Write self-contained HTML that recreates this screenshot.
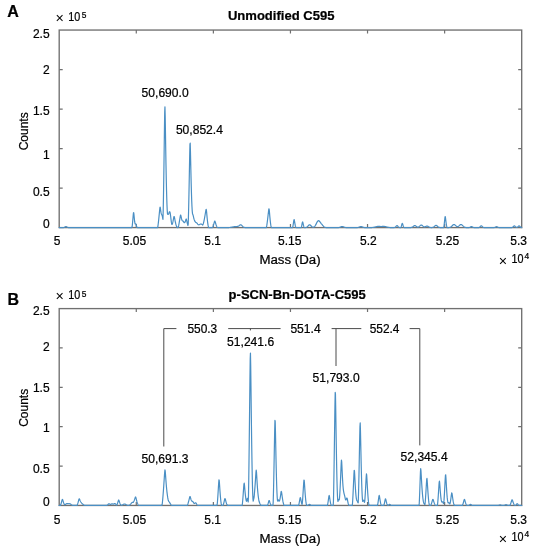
<!DOCTYPE html>
<html><head><meta charset="utf-8"><title>Mass spectra</title>
<style>
html,body{margin:0;padding:0;background:#fff;}
svg{display:block;font-family:"Liberation Sans",Arial,Helvetica,sans-serif;fill:#000;}
text{stroke:#000;stroke-width:0.22px;}
</style></head><body>
<svg width="536" height="550" viewBox="0 0 536 550">
<rect width="536" height="550" fill="#fff"/>
<rect x="59.2" y="30.05" width="462.50000000000006" height="197.54999999999998" fill="none" stroke="#707070" stroke-width="1.35"/>
<path d="M136.28,227.6v-3.5 M136.28,30.05v3.5 M213.37,227.6v-3.5 M213.37,30.05v3.5 M290.45,227.6v-3.5 M290.45,30.05v3.5 M367.53,227.6v-3.5 M367.53,30.05v3.5 M444.62,227.6v-3.5 M444.62,30.05v3.5 M59.2,69.56h3.5 M521.7,69.56h-3.5 M59.2,109.07h3.5 M521.7,109.07h-3.5 M59.2,148.58h3.5 M521.7,148.58h-3.5 M59.2,188.09h3.5 M521.7,188.09h-3.5 " stroke="#707070" stroke-width="1.2" fill="none"/>
<path d="M59.20,227.60 L62.70,227.60 L62.95,227.59 L63.20,227.58 L63.45,227.56 L63.70,227.53 L63.95,227.48 L64.20,227.40 L64.45,227.30 L64.70,227.17 L64.95,227.02 L65.20,226.87 L65.45,226.74 L65.70,226.64 L65.95,226.60 L66.20,226.62 L66.45,226.70 L66.70,226.82 L66.95,226.96 L67.20,227.11 L67.45,227.25 L67.70,227.36 L67.95,227.45 L68.20,227.51 L68.45,227.55 L68.70,227.57 L68.95,227.59 L69.20,227.59 L131.95,227.60 L132.20,226.20 L132.45,223.85 L132.70,221.13 L132.95,218.19 L133.20,215.27 L133.45,212.92 L133.70,212.63 L133.95,214.64 L134.20,217.30 L134.45,219.85 L134.70,221.96 L134.95,223.39 L135.20,224.01 L135.45,224.00 L135.70,223.83 L135.95,223.97 L136.20,224.84 L136.45,225.97 L136.70,226.85 L136.95,227.33 L137.20,227.52 L137.45,227.58 L137.70,227.60 L157.45,227.60 L157.70,227.30 L157.95,225.84 L158.20,223.98 L158.45,221.87 L158.70,219.57 L158.95,217.13 L159.20,214.58 L159.45,211.99 L159.70,209.48 L159.95,207.48 L160.20,207.14 L160.45,208.59 L160.70,210.48 L160.95,212.15 L161.20,213.40 L161.45,214.18 L161.70,214.64 L161.95,215.03 L162.20,215.66 L162.45,216.76 L162.70,218.40 L162.95,219.43 L163.20,210.63 L163.45,197.89 L163.70,182.55 L163.95,165.41 L164.20,147.05 L164.45,128.46 L164.70,112.34 L164.95,106.75 L165.20,116.44 L165.45,132.04 L165.70,147.98 L165.95,162.71 L166.20,175.79 L166.45,187.08 L166.70,196.58 L166.95,204.25 L167.20,210.00 L167.45,213.52 L167.70,214.28 L167.95,214.37 L168.20,214.39 L168.45,214.18 L168.70,213.70 L168.95,213.02 L169.20,212.31 L169.45,211.79 L169.70,211.69 L169.95,212.15 L170.20,213.21 L170.45,214.80 L170.70,216.75 L170.95,218.84 L171.20,220.88 L171.45,222.70 L171.70,224.04 L171.95,224.41 L172.20,224.23 L172.45,223.64 L172.70,222.74 L172.95,221.63 L173.20,220.36 L173.45,219.01 L173.70,217.68 L173.95,216.63 L174.20,216.51 L174.45,217.43 L174.70,218.70 L174.95,220.00 L175.20,221.26 L175.45,222.43 L175.70,223.50 L175.95,224.47 L176.20,225.32 L176.45,226.05 L176.70,226.65 L176.95,227.12 L177.20,227.44 L177.45,227.60 L177.70,227.60 L177.95,227.60 L178.20,227.41 L178.45,226.52 L178.70,225.39 L178.95,224.10 L179.20,222.69 L179.45,221.20 L179.70,219.64 L179.95,218.05 L180.20,216.52 L180.45,215.29 L180.70,215.09 L180.95,216.01 L181.20,217.24 L181.45,218.41 L181.70,219.39 L181.95,220.12 L182.20,220.59 L182.45,220.84 L182.70,220.94 L182.95,221.01 L183.20,221.14 L183.45,221.42 L183.70,221.89 L183.95,222.49 L184.20,222.63 L184.45,222.63 L184.70,222.51 L184.95,222.22 L185.20,221.72 L185.45,221.03 L185.70,220.20 L185.95,219.37 L186.20,219.00 L186.45,219.57 L186.70,220.61 L186.95,221.72 L187.20,222.79 L187.45,223.78 L187.70,224.68 L187.95,225.47 L188.20,224.25 L188.45,216.35 L188.70,206.09 L188.95,194.31 L189.20,181.44 L189.45,167.94 L189.70,154.74 L189.95,144.29 L190.20,143.03 L190.45,151.66 L190.70,162.88 L190.95,173.99 L191.20,184.12 L191.45,192.98 L191.70,200.42 L191.95,206.33 L192.20,210.64 L192.45,213.30 L192.70,214.42 L192.95,214.64 L193.20,215.57 L193.45,216.73 L193.70,217.83 L193.95,218.81 L194.20,219.65 L194.45,220.35 L194.70,220.91 L194.95,221.37 L195.20,221.73 L195.45,222.03 L195.70,222.28 L195.95,222.47 L196.20,222.58 L196.45,222.69 L196.70,222.89 L196.95,223.16 L197.20,223.48 L197.45,223.81 L197.70,224.13 L197.95,224.39 L198.20,224.60 L198.45,224.73 L198.70,224.79 L198.95,224.78 L199.20,224.71 L199.45,224.60 L199.70,224.47 L199.95,224.33 L200.20,224.20 L200.45,224.09 L200.70,224.02 L200.95,224.00 L201.20,224.02 L201.45,224.10 L201.70,224.23 L201.95,224.40 L202.20,224.61 L202.45,224.85 L202.70,225.07 L202.95,224.63 L203.20,223.94 L203.45,223.08 L203.70,222.10 L203.95,221.01 L204.20,219.82 L204.45,218.54 L204.70,217.18 L204.95,215.75 L205.20,214.26 L205.45,212.73 L205.70,211.23 L205.95,209.91 L206.20,209.30 L206.45,210.58 L206.70,213.13 L206.95,215.85 L207.20,218.44 L207.45,220.79 L207.70,222.84 L207.95,224.56 L208.20,225.94 L208.45,226.94 L208.70,227.51 L208.95,227.60 L212.45,227.60 L212.70,227.39 L212.95,226.80 L213.20,226.08 L213.45,225.28 L213.70,224.41 L213.95,223.50 L214.20,222.58 L214.45,221.70 L214.70,221.07 L214.95,221.15 L215.20,221.84 L215.45,222.68 L215.70,223.53 L215.95,224.32 L216.20,225.05 L216.45,225.70 L216.70,226.26 L216.95,226.74 L217.20,227.12 L217.45,227.40 L217.70,227.57 L217.95,227.60 L227.20,227.59 L227.45,227.58 L227.70,227.58 L227.95,227.57 L228.20,227.56 L228.45,227.55 L228.70,227.54 L228.95,227.53 L229.20,227.52 L229.45,227.50 L229.70,227.48 L229.95,227.46 L230.20,227.43 L230.45,227.40 L230.70,227.37 L230.95,227.34 L231.20,227.30 L231.45,227.26 L231.70,227.21 L231.95,227.16 L232.20,227.11 L232.45,227.06 L232.70,227.01 L232.95,226.95 L233.20,226.90 L233.45,226.84 L233.70,226.79 L233.95,226.74 L234.20,226.69 L234.45,226.65 L234.70,226.61 L234.95,226.58 L235.20,226.55 L235.45,226.53 L235.70,226.51 L235.95,226.50 L236.20,226.49 L236.45,226.49 L236.70,226.48 L236.95,226.48 L237.20,226.46 L237.45,226.43 L237.70,226.38 L237.95,226.31 L238.20,226.21 L238.45,226.09 L238.70,225.94 L238.95,225.76 L239.20,225.57 L239.45,225.37 L239.70,225.18 L239.95,225.02 L240.20,224.89 L240.45,224.81 L240.70,224.79 L240.95,224.84 L241.20,224.95 L241.45,225.12 L241.70,225.33 L241.95,225.59 L242.20,225.86 L242.45,226.13 L242.70,226.39 L242.95,226.63 L243.20,226.84 L243.45,227.03 L243.70,227.17 L243.95,227.29 L244.20,227.38 L244.45,227.45 L244.70,227.50 L244.95,227.53 L245.20,227.56 L245.45,227.57 L245.70,227.58 L245.95,227.59 L246.20,227.59 L266.20,227.60 L266.45,227.16 L266.70,225.88 L266.95,224.29 L267.20,222.51 L267.45,220.57 L267.70,218.52 L267.95,216.37 L268.20,214.17 L268.45,211.97 L268.70,209.96 L268.95,208.74 L269.20,209.61 L269.45,212.18 L269.70,215.10 L269.95,217.89 L270.20,220.43 L270.45,222.65 L270.70,224.50 L270.95,225.97 L271.20,227.00 L271.45,227.55 L271.70,227.60 L292.45,227.60 L292.70,227.32 L292.95,226.09 L293.20,224.56 L293.45,222.88 L293.70,221.18 L293.95,219.80 L294.20,219.64 L294.45,220.81 L294.70,222.36 L294.95,223.86 L295.20,225.16 L295.45,226.23 L295.70,227.02 L295.95,227.50 L296.20,227.60 L301.20,227.60 L301.45,226.91 L301.70,225.77 L301.95,224.47 L302.20,223.13 L302.45,222.04 L302.70,221.91 L302.95,222.84 L303.20,224.05 L303.45,225.20 L303.70,226.17 L303.95,226.92 L304.20,227.42 L304.45,227.59 L304.70,227.59 L304.95,227.58 L305.20,227.56 L305.45,227.54 L305.70,227.50 L305.95,227.46 L306.20,227.39 L306.45,227.29 L306.70,227.17 L306.95,227.01 L307.20,226.82 L307.45,226.60 L307.70,226.34 L307.95,226.07 L308.20,225.79 L308.45,225.51 L308.70,225.26 L308.95,225.05 L309.20,224.90 L309.45,224.81 L309.70,224.81 L309.95,224.87 L310.20,225.01 L310.45,225.21 L310.70,225.46 L310.95,225.73 L311.20,226.00 L311.45,226.28 L311.70,226.52 L311.95,226.74 L312.20,226.92 L312.45,227.06 L312.70,227.15 L312.95,227.20 L313.20,227.21 L313.45,227.18 L313.70,227.10 L313.95,226.99 L314.20,226.82 L314.45,226.62 L314.70,226.36 L314.95,226.06 L315.20,225.71 L315.45,225.31 L315.70,224.86 L315.95,224.39 L316.20,223.88 L316.45,223.37 L316.70,222.86 L316.95,222.36 L317.20,221.91 L317.45,221.51 L317.70,221.17 L317.95,220.92 L318.20,220.76 L318.45,220.69 L318.70,220.72 L318.95,220.83 L319.20,221.01 L319.45,221.26 L319.70,221.55 L319.95,221.87 L320.20,222.21 L320.45,222.55 L320.70,222.88 L320.95,223.21 L321.20,223.53 L321.45,223.83 L321.70,224.14 L321.95,224.44 L322.20,224.74 L322.45,225.05 L322.70,225.35 L322.95,225.65 L323.20,225.94 L323.45,226.22 L323.70,226.47 L323.95,226.70 L324.20,226.90 L324.45,227.07 L324.70,227.21 L324.95,227.31 L325.20,227.40 L325.45,227.46 L325.70,227.51 L325.95,227.54 L326.20,227.56 L326.45,227.58 L326.70,227.59 L326.95,227.59 L337.45,227.59 L337.70,227.59 L337.95,227.58 L338.20,227.57 L338.45,227.55 L338.70,227.53 L338.95,227.49 L339.20,227.45 L339.45,227.40 L339.70,227.33 L339.95,227.24 L340.20,227.15 L340.45,227.04 L340.70,226.93 L340.95,226.82 L341.20,226.72 L341.45,226.63 L341.70,226.56 L341.95,226.52 L342.20,226.50 L342.45,226.52 L342.70,226.56 L342.95,226.63 L343.20,226.72 L343.45,226.82 L343.70,226.93 L343.95,227.04 L344.20,227.15 L344.45,227.24 L344.70,227.33 L344.95,227.40 L345.20,227.45 L345.45,227.49 L345.70,227.53 L345.95,227.55 L346.20,227.57 L346.45,227.58 L346.70,227.59 L346.95,227.59 L356.20,227.59 L356.45,227.59 L356.70,227.58 L356.95,227.57 L357.20,227.56 L357.45,227.54 L357.70,227.51 L357.95,227.47 L358.20,227.42 L358.45,227.36 L358.70,227.29 L358.95,227.21 L359.20,227.11 L359.45,227.01 L359.70,226.91 L359.95,226.82 L360.20,226.73 L360.45,226.67 L360.70,226.62 L360.95,226.60 L361.20,226.61 L361.45,226.64 L361.70,226.70 L361.95,226.78 L362.20,226.87 L362.45,226.97 L362.70,227.07 L362.95,227.17 L363.20,227.26 L363.45,227.34 L363.70,227.40 L363.95,227.46 L364.20,227.50 L364.45,227.53 L364.70,227.55 L364.95,227.57 L365.20,227.58 L365.45,227.59 L365.70,227.59 L370.45,227.59 L370.70,227.58 L370.95,227.58 L371.20,227.57 L371.45,227.56 L371.70,227.55 L371.95,227.54 L372.20,227.52 L372.45,227.50 L372.70,227.48 L372.95,227.45 L373.20,227.42 L373.45,227.38 L373.70,227.34 L373.95,227.29 L374.20,227.24 L374.45,227.18 L374.70,227.12 L374.95,227.06 L375.20,226.99 L375.45,226.92 L375.70,226.85 L375.95,226.78 L376.20,226.71 L376.45,226.65 L376.70,226.59 L376.95,226.54 L377.20,226.49 L377.45,226.45 L377.70,226.42 L377.95,226.40 L378.20,226.39 L378.45,226.39 L378.70,226.39 L378.95,226.40 L379.20,226.41 L379.45,226.42 L379.70,226.44 L379.95,226.46 L380.20,226.47 L380.45,226.48 L380.70,226.49 L381.20,226.49 L381.45,226.49 L381.70,226.48 L381.95,226.46 L382.20,226.45 L382.45,226.43 L382.70,226.41 L382.95,226.40 L383.20,226.39 L383.45,226.39 L383.70,226.39 L383.95,226.40 L384.20,226.41 L384.45,226.44 L384.70,226.48 L384.95,226.52 L385.20,226.57 L385.45,226.63 L385.70,226.69 L385.95,226.75 L386.20,226.82 L386.45,226.89 L386.70,226.96 L386.95,227.03 L387.20,227.10 L387.45,227.16 L387.70,227.22 L387.95,227.27 L388.20,227.32 L388.45,227.37 L388.70,227.41 L388.95,227.44 L389.20,227.47 L389.45,227.49 L389.70,227.52 L389.95,227.53 L390.20,227.55 L390.45,227.56 L390.70,227.57 L390.95,227.58 L391.20,227.58 L391.45,227.59 L393.45,227.60 L393.70,227.59 L393.95,227.58 L394.20,227.56 L394.45,227.52 L394.70,227.46 L394.95,227.36 L395.20,227.20 L395.45,227.00 L395.70,226.74 L395.95,226.45 L396.20,226.15 L396.45,225.88 L396.70,225.69 L396.95,225.60 L397.20,225.64 L397.45,225.79 L397.70,226.03 L397.95,226.33 L398.20,226.63 L398.45,226.90 L398.70,227.13 L398.95,227.30 L399.20,227.42 L399.45,227.50 L399.70,227.55 L399.95,227.57 L400.20,227.59 L400.45,227.59 L400.70,227.60 L400.95,227.34 L401.20,226.65 L401.45,225.81 L401.70,224.91 L401.95,224.02 L402.20,223.37 L402.45,223.46 L402.70,224.16 L402.95,224.98 L403.20,225.76 L403.45,226.43 L403.70,226.97 L403.95,227.36 L404.20,227.57 L404.45,227.60 L409.70,227.59 L409.95,227.59 L410.20,227.58 L410.45,227.57 L410.70,227.55 L410.95,227.53 L411.20,227.49 L411.45,227.43 L411.70,227.36 L411.95,227.27 L412.20,227.15 L412.45,227.01 L412.70,226.85 L412.95,226.67 L413.20,226.47 L413.45,226.27 L413.70,226.07 L413.95,225.90 L414.20,225.75 L414.45,225.65 L414.70,225.60 L414.95,225.61 L415.20,225.67 L415.45,225.78 L415.70,225.93 L415.95,226.10 L416.20,226.30 L416.45,226.49 L416.70,226.68 L416.95,226.85 L417.20,226.98 L417.45,227.08 L417.70,227.15 L417.95,227.16 L418.20,227.14 L418.45,227.07 L418.70,226.95 L418.95,226.79 L419.20,226.60 L419.45,226.37 L419.70,226.12 L419.95,225.86 L420.20,225.61 L420.45,225.38 L420.70,225.20 L420.95,225.07 L421.20,225.01 L421.45,225.01 L421.70,225.09 L421.95,225.23 L422.20,225.42 L422.45,225.65 L422.70,225.89 L422.95,226.14 L423.20,226.37 L423.45,226.58 L423.70,226.74 L423.95,226.86 L424.20,226.94 L424.45,226.96 L424.70,226.94 L424.95,226.88 L425.20,226.78 L425.45,226.67 L425.70,226.54 L425.95,226.41 L426.20,226.29 L426.45,226.19 L426.70,226.13 L426.95,226.10 L427.20,226.11 L427.45,226.17 L427.70,226.26 L427.95,226.37 L428.20,226.51 L428.45,226.66 L428.70,226.81 L428.95,226.96 L429.20,227.09 L429.45,227.21 L429.70,227.30 L429.95,227.38 L430.20,227.44 L430.45,227.49 L430.70,227.52 L430.95,227.55 L431.20,227.56 L431.45,227.56 L431.70,227.55 L431.95,227.54 L432.20,227.51 L432.45,227.46 L432.70,227.40 L432.95,227.32 L433.20,227.21 L433.45,227.08 L433.70,226.92 L433.95,226.74 L434.20,226.53 L434.45,226.31 L434.70,226.09 L434.95,225.88 L435.20,225.69 L435.45,225.54 L435.70,225.44 L435.95,225.40 L436.20,225.42 L436.45,225.50 L436.70,225.63 L436.95,225.80 L437.20,226.00 L437.45,226.22 L437.70,226.44 L437.95,226.65 L438.20,226.85 L438.45,227.02 L438.70,227.16 L438.95,227.28 L439.20,227.37 L439.45,227.44 L439.70,227.49 L439.95,227.53 L440.20,227.56 L440.45,227.57 L440.70,227.58 L440.95,227.59 L441.20,227.59 L443.70,227.60 L443.95,226.27 L444.20,224.31 L444.45,222.07 L444.70,219.71 L444.95,217.55 L445.20,216.50 L445.45,217.53 L445.70,219.56 L445.95,221.67 L446.20,223.58 L446.45,225.18 L446.70,226.42 L446.95,227.26 L447.20,227.60 L447.70,227.59 L447.95,227.59 L448.20,227.58 L448.45,227.57 L448.70,227.56 L448.95,227.54 L449.20,227.51 L449.45,227.47 L449.70,227.42 L449.95,227.35 L450.20,227.27 L450.45,227.16 L450.70,227.02 L450.95,226.86 L451.20,226.68 L451.45,226.46 L451.70,226.23 L451.95,225.98 L452.20,225.72 L452.45,225.46 L452.70,225.21 L452.95,224.99 L453.20,224.79 L453.45,224.64 L453.70,224.54 L453.95,224.50 L454.20,224.52 L454.45,224.59 L454.70,224.72 L454.95,224.89 L455.20,225.10 L455.45,225.33 L455.70,225.58 L455.95,225.82 L456.20,226.04 L456.45,226.25 L456.70,226.42 L456.95,226.54 L457.20,226.63 L457.45,226.66 L457.70,226.65 L457.95,226.58 L458.20,226.47 L458.45,226.32 L458.70,226.13 L458.95,225.91 L459.20,225.67 L459.45,225.43 L459.70,225.19 L459.95,224.97 L460.20,224.78 L460.45,224.64 L460.70,224.54 L460.95,224.50 L461.20,224.52 L461.45,224.60 L461.70,224.73 L461.95,224.90 L462.20,225.12 L462.45,225.36 L462.70,225.62 L462.95,225.88 L463.20,226.13 L463.45,226.37 L463.70,226.59 L463.95,226.79 L464.20,226.96 L464.45,227.11 L464.70,227.23 L464.95,227.32 L465.20,227.40 L465.45,227.45 L465.70,227.50 L465.95,227.53 L466.20,227.55 L466.45,227.57 L466.70,227.58 L466.95,227.59 L467.20,227.59 L468.20,227.59 L468.45,227.59 L468.70,227.58 L468.95,227.56 L469.20,227.53 L469.45,227.48 L469.70,227.40 L469.95,227.30 L470.20,227.17 L470.45,227.02 L470.70,226.87 L470.95,226.74 L471.20,226.64 L471.45,226.60 L471.70,226.62 L471.95,226.70 L472.20,226.82 L472.45,226.96 L472.70,227.11 L472.95,227.25 L473.20,227.36 L473.45,227.45 L473.70,227.51 L473.95,227.55 L474.20,227.57 L474.45,227.59 L474.70,227.59 L477.95,227.59 L478.20,227.59 L478.45,227.57 L478.70,227.54 L478.95,227.49 L479.20,227.40 L479.45,227.27 L479.70,227.10 L479.95,226.88 L480.20,226.62 L480.45,226.35 L480.70,226.10 L480.95,225.91 L481.20,225.81 L481.45,225.82 L481.70,225.94 L481.95,226.14 L482.20,226.40 L482.45,226.67 L482.70,226.92 L482.95,227.14 L483.20,227.30 L483.45,227.42 L483.70,227.50 L483.95,227.55 L484.20,227.57 L484.45,227.59 L484.70,227.59 L493.45,227.59 L493.70,227.59 L493.95,227.57 L494.20,227.55 L494.45,227.51 L494.70,227.45 L494.95,227.37 L495.20,227.26 L495.45,227.14 L495.70,227.00 L495.95,226.87 L496.20,226.77 L496.45,226.71 L496.70,226.70 L496.95,226.75 L497.20,226.85 L497.45,226.97 L497.70,227.11 L497.95,227.24 L498.20,227.35 L498.45,227.44 L498.70,227.50 L498.95,227.54 L499.20,227.57 L499.45,227.58 L499.70,227.59 L499.95,227.60 L510.95,227.60 L511.20,227.59 L511.45,227.58 L511.70,227.56 L511.95,227.52 L512.20,227.45 L512.45,227.35 L512.70,227.20 L512.95,227.01 L513.20,226.77 L513.45,226.52 L513.70,226.27 L513.95,226.06 L514.20,225.93 L514.45,225.90 L514.70,225.97 L514.95,226.14 L515.20,226.36 L515.45,226.62 L515.70,226.86 L515.95,227.07 L516.20,227.23 L516.45,227.33 L516.70,227.36 L516.95,227.33 L517.20,227.23 L517.45,227.07 L517.70,226.86 L517.95,226.62 L518.20,226.36 L518.45,226.14 L518.70,225.97 L518.95,225.90 L519.20,225.93 L519.45,226.06 L519.70,226.27 L519.95,226.52 L520.20,226.77 L520.45,227.01 L520.70,227.20 L520.95,227.35 L521.20,227.45 L521.45,227.52 L521.70,227.56" fill="none" stroke="#4a8fc4" stroke-width="1.2" stroke-linejoin="round" stroke-linecap="round"/>
<text x="7.3" y="17.2" font-size="16" text-anchor="start" font-weight="bold">A</text>
<text x="227.9" y="20.450000000000003" font-size="13" text-anchor="start" font-weight="bold" textLength="106.6" lengthAdjust="spacingAndGlyphs">Unmodified C595</text>
<text x="59.7" y="23.00" font-size="14.3" text-anchor="middle" style="stroke:none">×</text>
<text x="68.35" y="20.95" font-size="12" textLength="12.0" lengthAdjust="spacingAndGlyphs">10</text>
<text x="81.7" y="18.15" font-size="8.4">5</text>
<text x="49.6" y="38.3" font-size="12" text-anchor="end" font-weight="normal">2.5</text>
<text x="49.6" y="73.8" font-size="12" text-anchor="end" font-weight="normal">2</text>
<text x="49.6" y="114.8" font-size="12" text-anchor="end" font-weight="normal">1.5</text>
<text x="49.6" y="158.5" font-size="12" text-anchor="end" font-weight="normal">1</text>
<text x="49.6" y="195.6" font-size="12" text-anchor="end" font-weight="normal">0.5</text>
<text x="49.6" y="228.2" font-size="12" text-anchor="end" font-weight="normal">0</text>
<text transform="translate(27.5,131.3) rotate(-90)" font-size="12" text-anchor="middle">Counts</text>
<text x="57.1" y="245.2" font-size="12" text-anchor="middle" font-weight="normal">5</text>
<text x="134.4" y="245.2" font-size="12" text-anchor="middle" font-weight="normal">5.05</text>
<text x="212.6" y="245.2" font-size="12" text-anchor="middle" font-weight="normal">5.1</text>
<text x="289.8" y="245.2" font-size="12" text-anchor="middle" font-weight="normal">5.15</text>
<text x="368.3" y="245.2" font-size="12" text-anchor="middle" font-weight="normal">5.2</text>
<text x="447.5" y="245.2" font-size="12" text-anchor="middle" font-weight="normal">5.25</text>
<text x="518.7" y="245.2" font-size="12" text-anchor="middle" font-weight="normal">5.3</text>
<text x="259.4" y="264.4" font-size="12" text-anchor="start" font-weight="normal" textLength="61.2" lengthAdjust="spacingAndGlyphs">Mass (Da)</text>
<text x="502.9" y="265.70" font-size="14.3" text-anchor="middle" style="stroke:none">×</text>
<text x="511.5" y="262.8" font-size="12" textLength="12.0" lengthAdjust="spacingAndGlyphs">10</text>
<text x="524.5" y="258.90000000000003" font-size="8.4">4</text>
<text x="141.6" y="97.2" font-size="12.4" text-anchor="start" font-weight="normal" textLength="47" lengthAdjust="spacingAndGlyphs">50,690.0</text>
<text x="175.9" y="134.0" font-size="12.4" text-anchor="start" font-weight="normal" textLength="47" lengthAdjust="spacingAndGlyphs">50,852.4</text>
<rect x="59.2" y="308.6" width="462.50000000000006" height="196.84999999999997" fill="none" stroke="#707070" stroke-width="1.35"/>
<path d="M136.28,505.45v-3.5 M136.28,308.6v3.5 M213.37,505.45v-3.5 M213.37,308.6v3.5 M290.45,505.45v-3.5 M290.45,308.6v3.5 M367.53,505.45v-3.5 M367.53,308.6v3.5 M444.62,505.45v-3.5 M444.62,308.6v3.5 M59.2,347.97h3.5 M521.7,347.97h-3.5 M59.2,387.34h3.5 M521.7,387.34h-3.5 M59.2,426.71h3.5 M521.7,426.71h-3.5 M59.2,466.08h3.5 M521.7,466.08h-3.5 " stroke="#707070" stroke-width="1.2" fill="none"/>
<path d="M59.20,505.45 L60.20,505.45 L60.45,505.40 L60.70,504.84 L60.95,504.10 L61.20,503.25 L61.45,502.33 L61.70,501.37 L61.95,500.41 L62.20,499.59 L62.45,499.32 L62.70,499.84 L62.95,500.68 L63.20,501.54 L63.45,502.34 L63.70,503.05 L63.95,503.64 L64.20,504.12 L64.45,504.46 L64.70,504.66 L64.95,504.71 L65.20,504.58 L65.45,504.40 L65.70,504.22 L65.95,504.05 L66.20,503.89 L66.45,503.76 L66.70,503.67 L66.95,503.61 L67.20,503.59 L67.45,503.59 L67.70,503.62 L67.95,503.66 L68.20,503.69 L68.45,503.72 L68.70,503.73 L68.95,503.72 L69.20,503.71 L69.45,503.71 L69.70,503.73 L69.95,503.78 L70.20,503.88 L70.45,504.01 L70.70,504.18 L70.95,504.36 L71.20,504.56 L71.45,504.75 L71.70,504.92 L71.95,505.07 L72.20,505.18 L72.45,505.27 L72.70,505.34 L72.95,505.38 L73.20,505.41 L73.45,505.43 L73.70,505.44 L73.95,505.44 L76.95,505.45 L77.20,505.04 L77.45,504.42 L77.70,503.69 L77.95,502.88 L78.20,502.00 L78.45,501.09 L78.70,500.15 L78.95,499.29 L79.20,498.80 L79.45,499.02 L79.70,499.59 L79.95,500.20 L80.20,500.76 L80.45,501.26 L80.70,501.71 L80.95,502.10 L81.20,502.47 L81.45,502.81 L81.70,503.12 L81.95,503.41 L82.20,503.65 L82.45,503.84 L82.70,504.05 L82.95,504.29 L83.20,504.51 L83.45,504.73 L83.70,504.91 L83.95,505.06 L84.20,505.18 L84.45,505.27 L84.70,505.33 L84.95,505.38 L85.20,505.41 L85.45,505.43 L85.70,505.44 L85.95,505.44 L105.45,505.45 L105.70,505.44 L105.95,505.43 L106.20,505.42 L106.45,505.39 L106.70,505.33 L106.95,505.25 L107.20,505.13 L107.45,504.96 L107.70,504.75 L107.95,504.51 L108.20,504.26 L108.45,504.04 L108.70,503.88 L108.95,503.80 L109.20,503.82 L109.45,503.91 L109.70,504.06 L109.95,504.22 L110.20,504.34 L110.45,504.40 L110.70,504.38 L110.95,504.29 L111.20,504.14 L111.45,503.99 L111.70,503.87 L111.95,503.80 L112.20,503.81 L112.45,503.88 L112.70,503.99 L112.95,504.09 L113.20,504.14 L113.45,504.12 L113.70,504.03 L113.95,503.88 L114.20,503.71 L114.45,503.57 L114.70,503.50 L114.95,503.53 L115.20,503.67 L115.45,503.89 L115.70,504.17 L115.95,504.46 L116.20,504.73 L116.45,504.96 L116.70,505.13 L116.95,504.84 L117.20,504.29 L117.45,503.60 L117.70,502.82 L117.95,501.98 L118.20,501.13 L118.45,500.37 L118.70,500.00 L118.95,500.36 L119.20,501.09 L119.45,501.88 L119.70,502.63 L119.95,503.32 L120.20,503.91 L120.45,504.42 L120.70,504.82 L120.95,505.10 L121.20,505.26 L121.45,505.27 L121.70,505.20 L121.95,505.11 L122.20,505.00 L122.45,504.88 L122.70,504.74 L122.95,504.60 L123.20,504.45 L123.45,504.32 L123.70,504.19 L123.95,504.09 L124.20,504.03 L124.45,504.00 L124.70,504.01 L124.95,504.06 L125.20,504.15 L125.45,504.26 L125.70,504.40 L125.95,504.54 L126.20,504.69 L126.45,504.83 L126.70,504.95 L126.95,505.07 L127.20,505.16 L127.45,505.23 L127.70,505.29 L127.95,505.32 L128.20,505.34 L128.45,505.34 L128.70,505.31 L128.95,505.27 L129.20,505.20 L129.45,505.10 L129.70,504.96 L129.95,504.79 L130.20,504.57 L130.45,504.32 L130.70,504.04 L130.95,503.73 L131.20,503.41 L131.45,503.10 L131.70,502.82 L131.95,502.58 L132.20,502.41 L132.45,502.32 L132.70,502.31 L132.95,502.38 L133.20,502.42 L133.45,502.07 L133.70,501.61 L133.95,501.08 L134.20,500.48 L134.45,499.82 L134.70,499.10 L134.95,498.34 L135.20,497.57 L135.45,496.98 L135.70,497.03 L135.95,497.81 L136.20,498.81 L136.45,499.82 L136.70,500.77 L136.95,501.65 L137.20,502.45 L137.45,503.16 L137.70,503.78 L137.95,504.32 L138.20,504.76 L138.45,505.10 L138.70,505.33 L138.95,505.45 L161.95,505.45 L162.20,504.23 L162.45,502.01 L162.70,499.38 L162.95,496.46 L163.20,493.30 L163.45,489.95 L163.70,486.44 L163.95,482.80 L164.20,479.09 L164.45,475.40 L164.70,472.01 L164.95,469.89 L165.20,470.81 L165.45,473.86 L165.70,477.37 L165.95,480.80 L166.20,484.00 L166.45,486.90 L166.70,489.51 L166.95,491.84 L167.20,493.92 L167.45,495.77 L167.70,497.41 L167.95,498.82 L168.20,499.99 L168.45,500.86 L168.70,501.33 L168.95,501.59 L169.20,501.90 L169.45,502.26 L169.70,502.66 L169.95,503.09 L170.20,503.53 L170.45,503.95 L170.70,504.33 L170.95,504.66 L171.20,504.92 L171.45,505.11 L171.70,505.25 L171.95,505.34 L172.20,505.39 L172.45,505.42 L172.70,505.44 L172.95,505.44 L187.20,505.45 L187.45,505.14 L187.70,504.52 L187.95,503.77 L188.20,502.93 L188.45,502.03 L188.70,501.07 L188.95,500.07 L189.20,499.05 L189.45,498.03 L189.70,497.09 L189.95,496.52 L190.20,496.77 L190.45,497.55 L190.70,498.43 L190.95,499.26 L191.20,499.98 L191.45,500.55 L191.70,500.95 L191.95,501.19 L192.20,501.32 L192.45,501.40 L192.70,501.52 L192.95,501.74 L193.20,502.08 L193.45,502.50 L193.70,502.91 L193.95,503.21 L194.20,503.42 L194.45,503.46 L194.70,503.36 L194.95,503.15 L195.20,502.94 L195.45,502.81 L195.70,502.83 L195.95,503.02 L196.20,503.36 L196.45,503.78 L196.70,504.22 L196.95,504.60 L197.20,504.91 L197.45,505.14 L197.70,505.28 L197.95,505.36 L198.20,505.41 L198.45,505.43 L198.70,505.44 L198.95,505.45 L216.95,505.45 L217.20,504.45 L217.45,501.72 L217.70,498.39 L217.95,494.68 L218.20,490.70 L218.45,486.62 L218.70,482.71 L218.95,479.92 L219.20,480.28 L219.45,483.33 L219.70,487.05 L219.95,490.73 L220.20,494.13 L220.45,497.17 L220.70,499.80 L220.95,501.98 L221.20,503.68 L221.45,504.86 L221.70,505.43 L221.95,505.45 L222.95,505.45 L223.20,505.05 L223.45,504.28 L223.70,503.36 L223.95,502.34 L224.20,501.27 L224.45,500.17 L224.70,499.15 L224.95,498.52 L225.20,498.81 L225.45,499.70 L225.70,500.71 L225.95,501.68 L226.20,502.58 L226.45,503.37 L226.70,504.06 L226.95,504.62 L227.20,505.05 L227.45,505.34 L227.70,505.45 L241.95,505.45 L242.20,505.27 L242.45,503.24 L242.70,500.54 L242.95,497.44 L243.20,494.08 L243.45,490.56 L243.70,487.05 L243.95,484.06 L244.20,483.06 L244.45,484.91 L244.70,487.83 L244.95,490.74 L245.20,493.36 L245.45,495.63 L245.70,497.61 L245.95,499.30 L246.20,500.61 L246.45,501.30 L246.70,501.12 L246.95,500.02 L247.20,498.83 L247.45,498.29 L247.70,498.78 L247.95,500.17 L248.20,501.93 L248.45,496.83 L248.70,482.68 L248.95,464.95 L249.20,444.84 L249.45,423.12 L249.70,400.50 L249.95,378.11 L250.20,359.12 L250.45,353.04 L250.70,365.56 L250.95,385.54 L251.20,406.39 L251.45,426.20 L251.70,444.29 L251.95,460.30 L252.20,474.00 L252.45,485.17 L252.70,493.58 L252.95,499.01 L253.20,501.11 L253.45,500.08 L253.70,498.94 L253.95,498.14 L254.20,496.20 L254.45,493.22 L254.70,490.13 L254.95,486.95 L255.20,483.59 L255.45,479.96 L255.70,476.08 L255.95,472.31 L256.20,470.03 L256.45,471.54 L256.70,475.50 L256.95,479.87 L257.20,483.99 L257.45,487.68 L257.70,490.86 L257.95,493.56 L258.20,495.83 L258.45,497.76 L258.70,499.41 L258.95,500.80 L259.20,501.85 L259.45,502.46 L259.70,503.09 L259.95,503.73 L260.20,504.29 L260.45,504.73 L260.70,505.03 L260.95,505.23 L261.20,505.34 L261.45,505.40 L261.70,505.43 L261.95,505.44 L262.20,505.45 L267.20,505.45 L267.45,505.40 L267.70,504.85 L267.95,504.13 L268.20,503.30 L268.45,502.42 L268.70,501.53 L268.95,500.76 L269.20,500.52 L269.45,501.02 L269.70,501.82 L269.95,502.63 L270.20,503.37 L270.45,504.03 L270.70,504.57 L270.95,505.00 L271.20,505.30 L271.45,505.44 L271.70,505.45 L272.95,505.45 L273.20,502.11 L273.45,493.01 L273.70,481.92 L273.95,469.54 L274.20,456.31 L274.45,442.69 L274.70,429.66 L274.95,420.36 L275.20,421.56 L275.45,431.69 L275.70,444.08 L275.95,456.25 L276.20,467.44 L276.45,477.31 L276.70,485.66 L276.95,492.34 L277.20,497.23 L277.45,500.24 L277.70,501.20 L277.95,500.46 L278.20,499.94 L278.45,499.81 L278.70,500.11 L278.95,500.76 L279.20,501.19 L279.45,500.88 L279.70,500.22 L279.95,499.20 L280.20,497.87 L280.45,496.26 L280.70,494.48 L280.95,492.72 L281.20,491.44 L281.45,491.64 L281.70,493.11 L281.95,494.93 L282.20,496.73 L282.45,498.43 L282.70,499.99 L282.95,501.38 L283.20,502.59 L283.45,503.61 L283.70,504.43 L283.95,505.03 L284.20,505.38 L284.45,505.45 L298.45,505.45 L298.70,505.07 L298.95,504.05 L299.20,502.81 L299.45,501.44 L299.70,500.00 L299.95,498.61 L300.20,497.61 L300.45,497.74 L300.70,498.83 L300.95,500.14 L301.20,501.41 L301.45,502.55 L301.70,503.54 L301.95,504.34 L302.20,503.95 L302.45,501.61 L302.70,498.42 L302.95,494.72 L303.20,490.76 L303.45,486.69 L303.70,482.80 L303.95,480.02 L304.20,480.38 L304.45,483.41 L304.70,487.13 L304.95,490.79 L305.20,494.17 L305.45,497.20 L305.70,499.82 L305.95,501.99 L306.20,503.69 L306.45,504.86 L306.70,505.43 L306.95,505.44 L307.20,505.43 L307.45,505.41 L307.70,505.37 L307.95,505.29 L308.20,505.17 L308.45,505.01 L308.70,504.81 L308.95,504.62 L309.20,504.47 L309.45,504.40 L309.70,504.43 L309.95,504.55 L310.20,504.73 L310.45,504.93 L310.70,505.11 L310.95,505.25 L311.20,505.34 L311.45,505.40 L311.70,505.43 L311.95,505.44 L312.20,505.45 L327.20,505.45 L327.45,505.35 L327.70,504.24 L327.95,502.76 L328.20,501.09 L328.45,499.29 L328.70,497.49 L328.95,495.93 L329.20,495.44 L329.45,496.46 L329.70,498.07 L329.95,499.72 L330.20,501.23 L330.45,502.56 L330.70,503.67 L330.95,504.54 L331.20,505.14 L331.45,505.44 L331.70,505.45 L333.20,505.45 L333.45,501.01 L333.70,488.92 L333.95,474.19 L334.20,457.75 L334.45,440.16 L334.70,422.07 L334.95,404.77 L335.20,392.41 L335.45,394.00 L335.70,407.48 L335.95,423.97 L336.20,440.18 L336.45,455.13 L336.70,468.38 L336.95,479.69 L337.20,488.84 L337.45,495.66 L337.70,499.96 L337.95,501.48 L338.20,500.61 L338.45,499.84 L338.70,499.44 L338.95,499.48 L339.20,499.97 L339.45,498.64 L339.70,495.38 L339.95,491.31 L340.20,486.56 L340.45,481.21 L340.70,475.39 L340.95,469.34 L341.20,463.65 L341.45,460.13 L341.70,461.73 L341.95,466.66 L342.20,472.18 L342.45,477.35 L342.70,481.85 L342.95,485.51 L343.20,488.32 L343.45,490.36 L343.70,491.85 L343.95,493.02 L344.20,494.09 L344.45,495.08 L344.70,495.92 L344.95,497.11 L345.20,498.42 L345.45,499.47 L345.70,500.00 L345.95,499.92 L346.20,499.36 L346.45,498.63 L346.70,498.09 L346.95,498.04 L347.20,498.60 L347.45,499.67 L347.70,501.02 L347.95,502.37 L348.20,503.50 L348.45,504.33 L348.70,504.87 L348.95,505.18 L349.20,505.33 L349.45,505.40 L349.70,505.43 L349.95,505.44 L352.20,505.45 L352.45,504.07 L352.70,500.31 L352.95,495.73 L353.20,490.61 L353.45,485.14 L353.70,479.51 L353.95,474.12 L354.20,470.25 L354.45,470.70 L354.70,474.80 L354.95,479.77 L355.20,484.55 L355.45,488.80 L355.70,492.41 L355.95,495.31 L356.20,497.54 L356.45,499.16 L356.70,500.24 L356.95,500.78 L357.20,500.91 L357.45,501.35 L357.70,502.01 L357.95,502.79 L358.20,502.87 L358.45,496.02 L358.70,486.50 L358.95,475.39 L359.20,463.18 L359.45,450.30 L359.70,437.44 L359.95,426.47 L360.20,422.96 L360.45,430.20 L360.70,441.71 L360.95,453.62 L361.20,464.79 L361.45,474.81 L361.70,483.44 L361.95,490.53 L362.20,495.95 L362.45,499.61 L362.70,501.37 L362.95,501.09 L363.20,500.48 L363.45,500.21 L363.70,500.33 L363.95,500.82 L364.20,501.57 L364.45,502.44 L364.70,501.48 L364.95,498.68 L365.20,495.05 L365.45,490.81 L365.70,486.15 L365.95,481.28 L366.20,476.71 L366.45,473.90 L366.70,475.22 L366.95,479.27 L367.20,483.86 L367.45,488.30 L367.70,492.38 L367.95,496.00 L368.20,499.11 L368.45,501.67 L368.70,503.63 L368.95,504.93 L369.20,505.45 L377.45,505.45 L377.70,504.50 L377.95,503.08 L378.20,501.43 L378.45,499.66 L378.70,497.84 L378.95,496.20 L379.20,495.40 L379.45,496.18 L379.70,497.74 L379.95,499.39 L380.20,500.94 L380.45,502.31 L380.70,503.47 L380.95,504.39 L381.20,505.05 L381.45,505.41 L381.70,505.45 L383.70,505.45 L383.95,504.98 L384.20,504.08 L384.45,503.02 L384.70,501.86 L384.95,500.65 L385.20,499.52 L385.45,498.82 L385.70,499.15 L385.95,500.13 L386.20,501.23 L386.45,502.27 L386.70,503.20 L386.95,503.99 L387.20,504.63 L387.45,505.08 L387.70,505.33 L387.95,505.32 L388.20,505.22 L388.45,505.08 L388.70,504.89 L388.95,504.70 L389.20,504.52 L389.45,504.42 L389.70,504.41 L389.95,504.50 L390.20,504.66 L390.45,504.85 L390.70,505.04 L390.95,505.20 L391.20,505.31 L391.45,505.38 L391.70,505.42 L391.95,505.44 L392.20,505.44 L418.95,505.45 L419.20,504.17 L419.45,499.09 L419.70,492.76 L419.95,485.74 L420.20,478.46 L420.45,471.83 L420.70,468.60 L420.95,470.60 L421.20,474.69 L421.45,479.14 L421.70,483.43 L421.95,487.38 L422.20,490.91 L422.45,493.99 L422.70,496.61 L422.95,498.79 L423.20,500.56 L423.45,501.95 L423.70,502.95 L423.95,503.45 L424.20,503.73 L424.45,504.07 L424.70,504.43 L424.95,504.53 L425.20,502.32 L425.45,499.21 L425.70,495.56 L425.95,491.53 L426.20,487.29 L426.45,483.05 L426.70,479.44 L426.95,478.28 L427.20,480.67 L427.45,484.47 L427.70,488.41 L427.95,492.13 L428.20,495.49 L428.45,498.44 L428.70,500.93 L428.95,502.93 L429.20,504.40 L429.45,505.27 L429.70,505.45 L430.45,505.45 L430.70,505.41 L430.95,504.94 L431.20,504.32 L431.45,503.60 L431.70,502.81 L431.95,501.97 L432.20,501.11 L432.45,500.26 L432.70,499.55 L432.95,499.32 L433.20,499.79 L433.45,500.55 L433.70,501.34 L433.95,502.10 L434.20,502.81 L434.45,503.44 L434.70,504.00 L434.95,504.48 L435.20,504.87 L435.45,505.17 L435.70,505.37 L435.95,505.45 L437.20,505.45 L437.45,505.25 L437.70,503.04 L437.95,500.08 L438.20,496.70 L438.45,493.03 L438.70,489.19 L438.95,485.38 L439.20,482.12 L439.45,481.07 L439.70,483.19 L439.95,486.55 L440.20,489.98 L440.45,493.15 L440.70,495.90 L440.95,498.16 L441.20,499.90 L441.45,501.10 L441.70,501.81 L441.95,502.07 L442.20,501.89 L442.45,501.81 L442.70,502.00 L442.95,502.42 L443.20,502.99 L443.45,503.60 L443.70,503.48 L443.95,500.88 L444.20,497.34 L444.45,493.20 L444.70,488.63 L444.95,483.82 L445.20,479.09 L445.45,475.33 L445.70,474.87 L445.95,478.10 L446.20,482.47 L446.45,486.85 L446.70,490.88 L446.95,494.42 L447.20,497.39 L447.45,499.73 L447.70,501.44 L447.95,502.50 L448.20,502.91 L448.45,502.71 L448.70,502.60 L448.95,502.71 L449.20,503.01 L449.45,503.44 L449.70,503.91 L449.95,503.87 L450.20,502.91 L450.45,501.57 L450.70,499.94 L450.95,498.11 L451.20,496.18 L451.45,494.30 L451.70,492.95 L451.95,493.14 L452.20,494.63 L452.45,496.45 L452.70,498.25 L452.95,499.91 L453.20,501.40 L453.45,502.68 L453.70,503.75 L453.95,504.59 L454.20,505.16 L454.45,505.44 L454.70,505.45 L462.20,505.45 L462.45,505.40 L462.70,504.84 L462.95,504.10 L463.20,503.25 L463.45,502.33 L463.70,501.36 L463.95,500.40 L464.20,499.58 L464.45,499.32 L464.70,499.86 L464.95,500.71 L465.20,501.60 L465.45,502.44 L465.70,503.20 L465.95,503.87 L466.20,504.43 L466.45,504.88 L466.70,505.21 L466.95,505.41 L467.20,505.45 L467.70,505.45 L467.95,505.44 L468.20,505.43 L468.45,505.41 L468.70,505.37 L468.95,505.29 L469.20,505.17 L469.45,505.01 L469.70,504.81 L469.95,504.62 L470.20,504.47 L470.45,504.40 L470.70,504.43 L470.95,504.55 L471.20,504.73 L471.45,504.93 L471.70,505.11 L471.95,505.25 L472.20,505.34 L472.45,505.40 L472.70,505.43 L472.95,505.44 L473.20,505.45 L496.95,505.44 L497.20,505.44 L497.45,505.43 L497.70,505.41 L497.95,505.38 L498.20,505.34 L498.45,505.28 L498.70,505.21 L498.95,505.13 L499.20,505.05 L499.45,504.98 L499.70,504.92 L499.95,504.90 L500.20,504.91 L500.45,504.95 L500.70,505.02 L500.95,505.10 L501.20,505.18 L501.45,505.26 L501.70,505.32 L501.95,505.37 L502.20,505.40 L502.45,505.42 L502.70,505.43 L503.20,505.43 L503.45,505.42 L503.70,505.40 L503.95,505.36 L504.20,505.30 L504.45,505.22 L504.70,505.13 L504.95,505.02 L505.20,504.91 L505.45,504.81 L505.70,504.73 L505.95,504.70 L506.20,504.71 L506.45,504.77 L506.70,504.86 L506.95,504.97 L507.20,505.08 L507.45,505.19 L507.70,505.27 L507.95,505.34 L508.20,505.38 L508.45,505.41 L508.70,505.43 L508.95,505.44 L509.20,505.45 L509.70,505.45 L509.95,505.35 L510.20,504.87 L510.45,504.26 L510.70,503.57 L510.95,502.83 L511.20,502.04 L511.45,501.23 L511.70,500.45 L511.95,499.83 L512.20,499.76 L512.45,500.29 L512.70,501.02 L512.95,501.76 L513.20,502.46 L513.45,503.10 L513.70,503.68 L513.95,504.19 L514.20,504.62 L514.45,504.97 L514.70,505.22 L514.95,505.37 L515.20,505.37 L515.45,505.29 L515.70,505.15 L515.95,504.93 L516.20,504.65 L516.45,504.32 L516.70,504.01 L516.95,503.78 L517.20,503.70 L517.45,503.78 L517.70,504.01 L517.95,504.32 L518.20,504.65 L518.45,504.93 L518.70,505.15 L518.95,505.29 L519.20,505.37 L519.45,505.42 L519.70,505.44 L519.95,505.45 L521.70,505.45" fill="none" stroke="#4a8fc4" stroke-width="1.2" stroke-linejoin="round" stroke-linecap="round"/>
<text x="7.6" y="304.8" font-size="16" text-anchor="start" font-weight="bold">B</text>
<text x="228.6" y="299.0" font-size="13" text-anchor="start" font-weight="bold" textLength="137.2" lengthAdjust="spacingAndGlyphs">p-SCN-Bn-DOTA-C595</text>
<text x="59.7" y="301.45" font-size="14.3" text-anchor="middle" style="stroke:none">×</text>
<text x="68.35" y="299.4" font-size="12" textLength="12.0" lengthAdjust="spacingAndGlyphs">10</text>
<text x="81.7" y="296.59999999999997" font-size="8.4">5</text>
<text x="49.6" y="315" font-size="12" text-anchor="end" font-weight="normal">2.5</text>
<text x="49.6" y="350.8" font-size="12" text-anchor="end" font-weight="normal">2</text>
<text x="49.6" y="391.6" font-size="12" text-anchor="end" font-weight="normal">1.5</text>
<text x="49.6" y="431.9" font-size="12" text-anchor="end" font-weight="normal">1</text>
<text x="49.6" y="472.6" font-size="12" text-anchor="end" font-weight="normal">0.5</text>
<text x="49.6" y="505.6" font-size="12" text-anchor="end" font-weight="normal">0</text>
<text transform="translate(27.5,407.8) rotate(-90)" font-size="12" text-anchor="middle">Counts</text>
<text x="57.1" y="524.3" font-size="12" text-anchor="middle" font-weight="normal">5</text>
<text x="134.4" y="524.3" font-size="12" text-anchor="middle" font-weight="normal">5.05</text>
<text x="212.6" y="524.3" font-size="12" text-anchor="middle" font-weight="normal">5.1</text>
<text x="289.8" y="524.3" font-size="12" text-anchor="middle" font-weight="normal">5.15</text>
<text x="368.3" y="524.3" font-size="12" text-anchor="middle" font-weight="normal">5.2</text>
<text x="447.5" y="524.3" font-size="12" text-anchor="middle" font-weight="normal">5.25</text>
<text x="518.7" y="524.3" font-size="12" text-anchor="middle" font-weight="normal">5.3</text>
<text x="259.4" y="542.7" font-size="12" text-anchor="start" font-weight="normal" textLength="61.2" lengthAdjust="spacingAndGlyphs">Mass (Da)</text>
<text x="502.9" y="544.00" font-size="14.3" text-anchor="middle" style="stroke:none">×</text>
<text x="511.5" y="541.1" font-size="12" textLength="12.0" lengthAdjust="spacingAndGlyphs">10</text>
<text x="524.5" y="537.2" font-size="8.4">4</text>
<path d="M176.4,328.6H163.8V446.5 M228.2,328.6H280.6 M250.4,328.6v1.8 M331.6,328.6H361.3 M336,328.6V366 M409.6,328.6H419.8V445.4" fill="none" stroke="#4a4a4a" stroke-width="1"/>
<text x="187.4" y="332.6" font-size="12.4" text-anchor="start" font-weight="normal" textLength="29.8" lengthAdjust="spacingAndGlyphs">550.3</text>
<text x="290.4" y="332.6" font-size="12.4" text-anchor="start" font-weight="normal" textLength="30.3" lengthAdjust="spacingAndGlyphs">551.4</text>
<text x="369.7" y="332.6" font-size="12.4" text-anchor="start" font-weight="normal" textLength="29.8" lengthAdjust="spacingAndGlyphs">552.4</text>
<text x="227.1" y="346.1" font-size="12.4" text-anchor="start" font-weight="normal" textLength="47" lengthAdjust="spacingAndGlyphs">51,241.6</text>
<text x="141.5" y="463.0" font-size="12.4" text-anchor="start" font-weight="normal" textLength="47" lengthAdjust="spacingAndGlyphs">50,691.3</text>
<text x="312.6" y="382.3" font-size="12.4" text-anchor="start" font-weight="normal" textLength="47" lengthAdjust="spacingAndGlyphs">51,793.0</text>
<text x="400.6" y="461" font-size="12.4" text-anchor="start" font-weight="normal" textLength="47" lengthAdjust="spacingAndGlyphs">52,345.4</text>
</svg></body></html>
